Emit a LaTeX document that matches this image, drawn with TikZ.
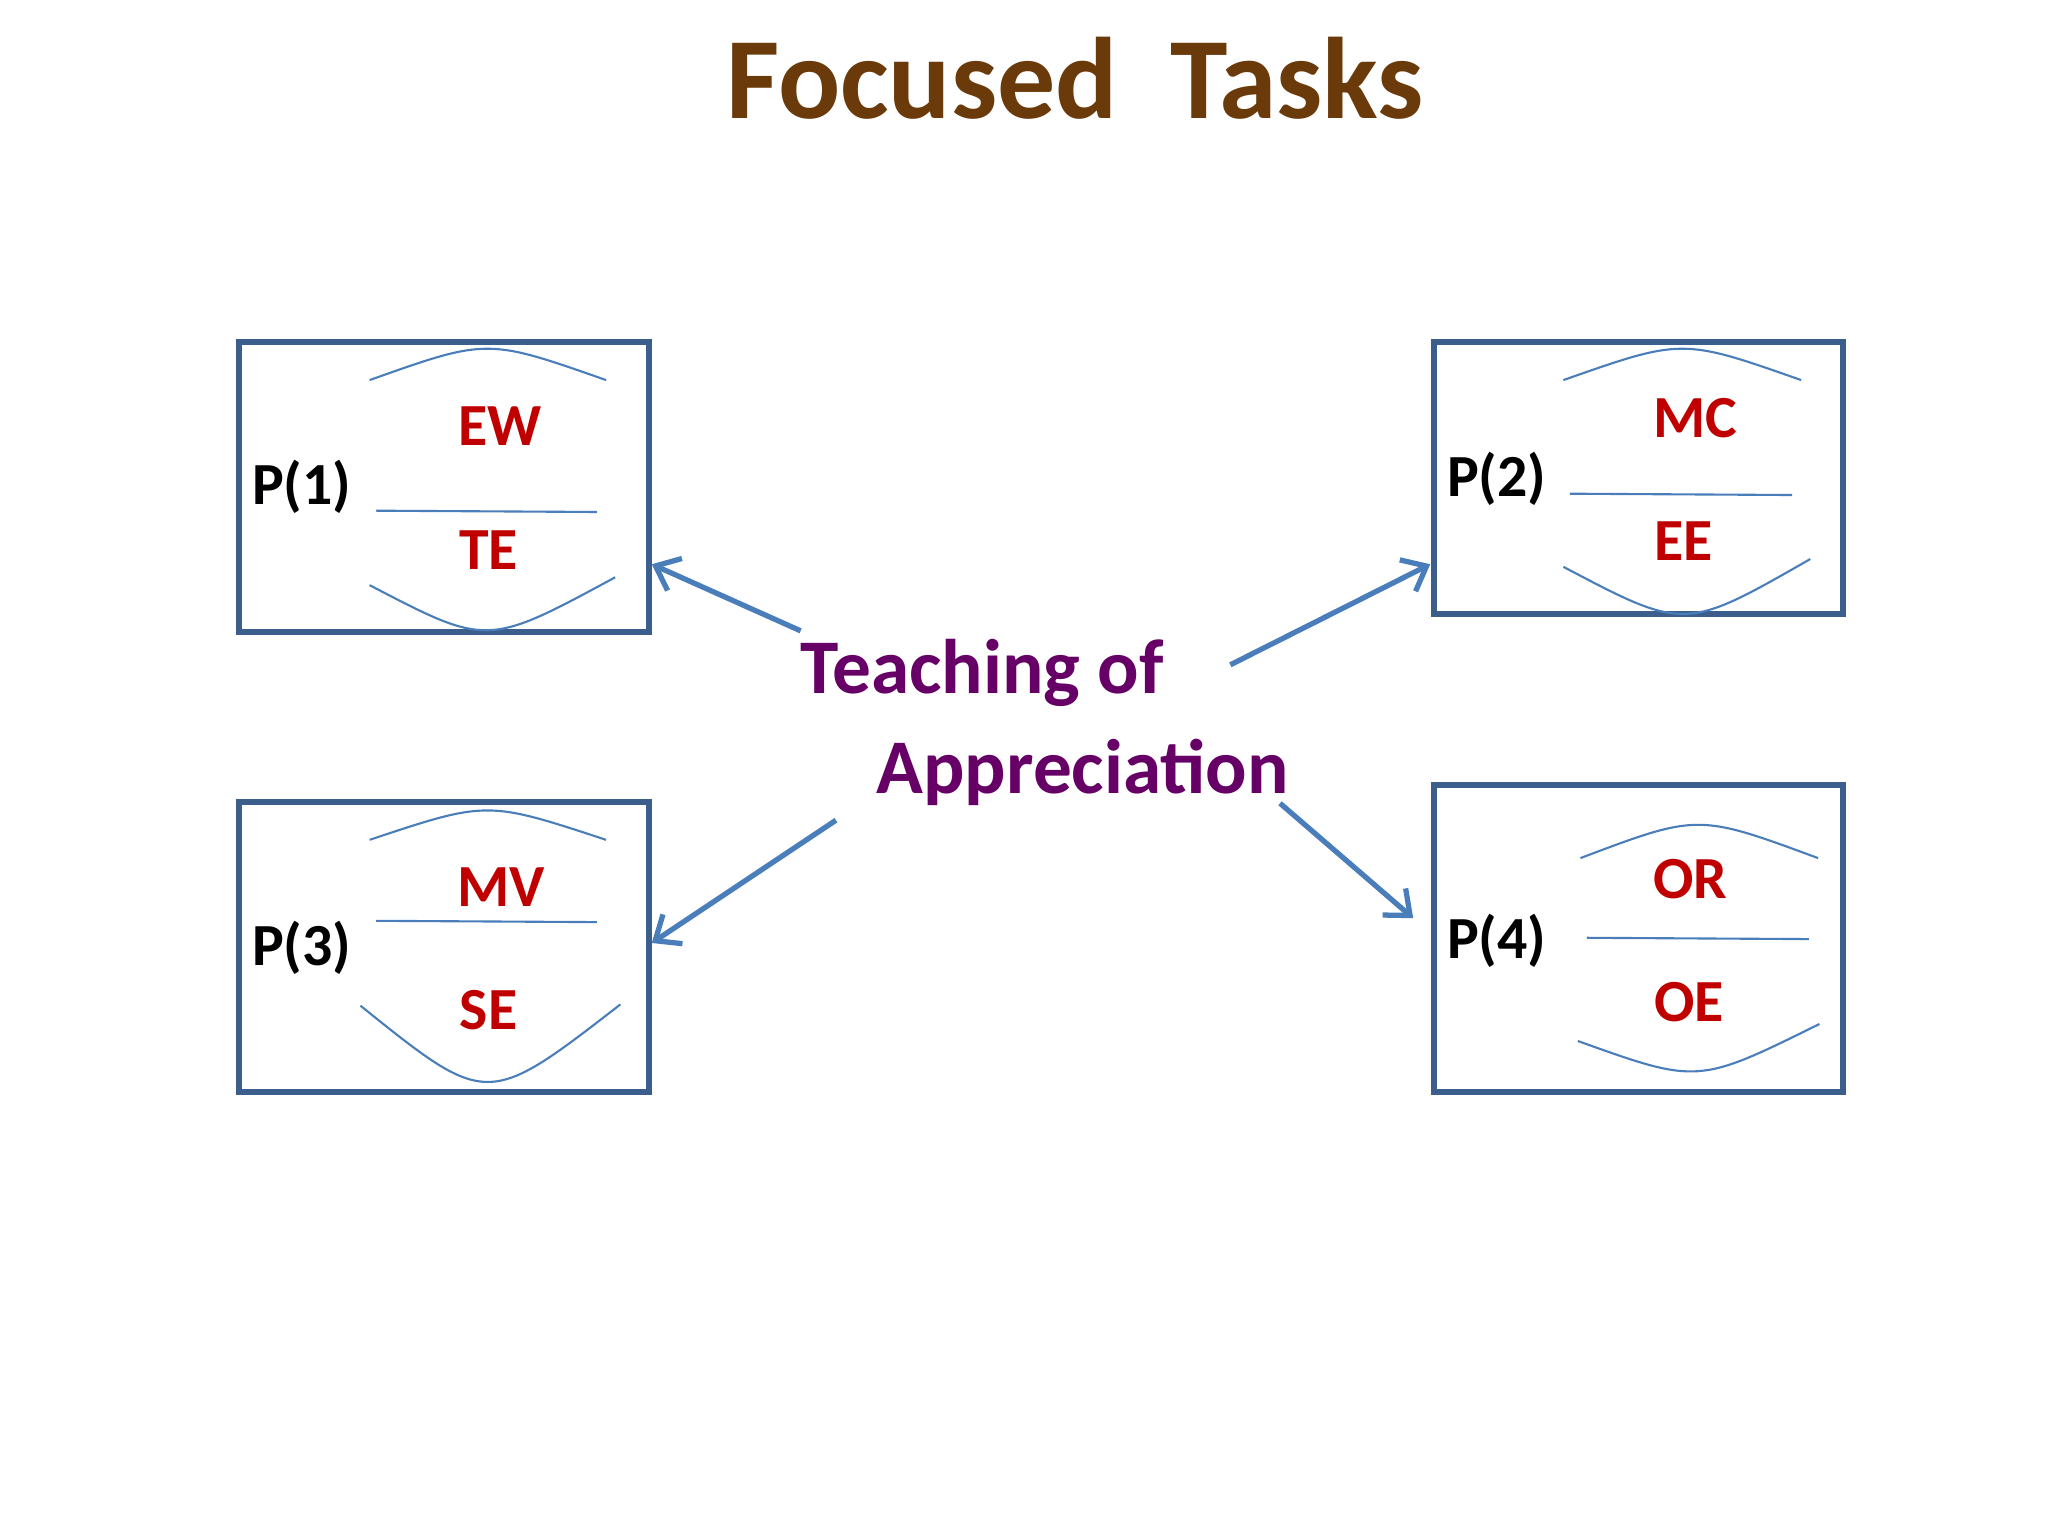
\documentclass[tikz,border=0pt]{standalone}
\usepackage{fontspec}
\setmainfont{Carlito}
\usetikzlibrary{arrows.meta}
\definecolor{boxc}{HTML}{3B5E8C}
\definecolor{arr}{HTML}{4A7EBB}
\definecolor{redt}{HTML}{C00000}
\definecolor{purp}{HTML}{660066}
\definecolor{brown}{HTML}{6B3A0A}
\begin{document}
\begin{tikzpicture}[x=0.01306cm,y=-0.01306cm,
  box/.style={draw=boxc,line width=1.6pt},
  arc/.style={draw=arr,line width=0.6pt},
  conn/.style={draw=arr,line width=1.5pt,-{Straight Barb[length=6pt,width=10pt]}},
  lab/.style={font=\fontsize{17}{20}\selectfont\bfseries},
  red/.style={font=\fontsize{17}{20}\selectfont\bfseries,text=redt},
  cen/.style={font=\fontsize{22}{26}\selectfont\bfseries,text=purp}]
\useasboundingbox[fill=white] (0,0) rectangle (1568,1176);
\node[font=\fontsize{33}{38}\selectfont\bfseries,text=brown] (title) at (823,60) {Focused\ \ Tasks};
% boxes
\draw[box] (183,262) rectangle (497,484);
\draw[box] (1098,262) rectangle (1411,470);
\draw[box] (183,614) rectangle (497,836);
\draw[box] (1098,601) rectangle (1411,836);
% P1
\draw[arc] (283,291) .. controls (373,259) .. (464,291);
\draw[arc] (288,391) -- (457,392);
\draw[arc] (283,448) .. controls (373,495) .. (471,442);
\node[lab] (p1) at (231,373) {P(1)};
\node[red] (ew) at (383,326) {EW};
\node[red] (te) at (374,421) {TE};
% P2
\draw[arc] (1197,291) .. controls (1288,259) .. (1379,291);
\draw[arc] (1202,378) -- (1372,379);
\draw[arc] (1197,434) .. controls (1290,483) .. (1386,428);
\node[lab] (p2) at (1146,367) {P(2)};
\node[red] (mc) at (1298,320) {MC};
\node[red] (ee) at (1289,414) {EE};
% P3
\draw[arc] (283,643) .. controls (373,613) .. (464,643);
\draw[arc] (288,705) -- (457,706);
\draw[arc] (276,770) .. controls (373,848) .. (475,769);
\node[lab] (p3) at (231,726) {P(3)};
\node[red] (mv) at (384,679) {MV};
\node[red] (se) at (374,773) {SE};
% P4
\draw[arc] (1210,657) .. controls (1300,623) .. (1392,657);
\draw[arc] (1215,718) -- (1385,719);
\draw[arc] (1208,797) .. controls (1300,830) .. (1393,784);
\node[lab] (p4) at (1146,720) {P(4)};
\node[red] (or) at (1294,673) {OR};
\node[red] (oe) at (1293,767) {OE};
% centre
\node[cen] (t1) at (752,515) {Teaching of};
\node[cen] (t2) at (829,591) {Appreciation};
% arrows
\coordinate (a1s) at (613,483); \coordinate (a1e) at (499,432);
\coordinate (a2s) at (942,509); \coordinate (a2e) at (1095,432);
\coordinate (a3s) at (640,628); \coordinate (a3e) at (499,722);
\coordinate (a4s) at (980,615); \coordinate (a4e) at (1082,703);
\draw[conn] (a1s) -- (a1e);
\draw[conn] (a2s) -- (a2e);
\draw[conn] (a3s) -- (a3e);
\draw[conn] (a4s) -- (a4e);
\end{tikzpicture}
\end{document}
